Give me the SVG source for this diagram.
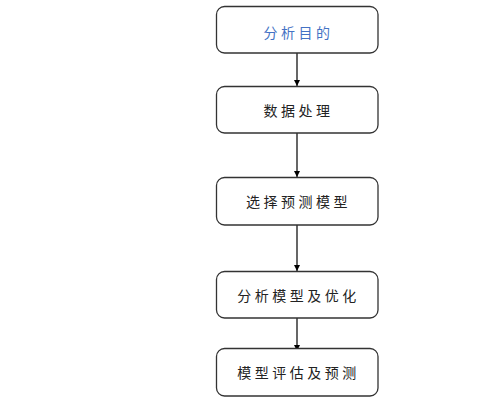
<svg xmlns="http://www.w3.org/2000/svg" width="488" height="404" viewBox="0 0 488 404">
<style>
.box rect{fill:#fff;stroke:#333;stroke-width:1.3}
.box text{font-family:"Noto Sans CJK SC","Noto Sans",sans-serif;font-size:14px;fill:#222;text-anchor:middle;dominant-baseline:central;letter-spacing:3.5px}
.box text.blue{fill:#4472C4}
.conn line{stroke:#000;stroke-width:1.2;marker-end:url(#ah)}
</style>
<defs>
<marker id="ah" viewBox="0 0 10 10" refX="10" refY="5" markerWidth="6" markerHeight="6" markerUnits="userSpaceOnUse" orient="auto">
<path d="M0,0 L10,5 L0,10 z" fill="#000"/>
</marker>
</defs>
<rect width="488" height="404" fill="#fff"/>
<g class="conn">
<line x1="297" y1="53" x2="297" y2="86"/>
<line x1="297" y1="133" x2="297" y2="177"/>
<line x1="297" y1="225" x2="297" y2="271"/>
<line x1="297" y1="318" x2="297" y2="351"/>
</g>
<g id="n1" class="box"><rect x="216.5" y="6.5" width="161.5" height="46.5" rx="8"/><text class="blue" x="298.5" y="32">分析目的</text></g>
<g id="n2" class="box"><rect x="216.5" y="86.5" width="161.5" height="46.5" rx="8"/><text x="298.5" y="110">数据处理</text></g>
<g id="n3" class="box"><rect x="216.5" y="177.5" width="161.5" height="47.5" rx="8"/><text x="298.5" y="201">选择预测模型</text></g>
<g id="n4" class="box"><rect x="216.5" y="271.5" width="161.5" height="46.5" rx="8"/><text x="298.5" y="295">分析模型及优化</text></g>
<g id="n5" class="box"><rect x="216.5" y="348.5" width="161.5" height="47.5" rx="8"/><text x="298.5" y="372">模型评估及预测</text></g>
</svg>
